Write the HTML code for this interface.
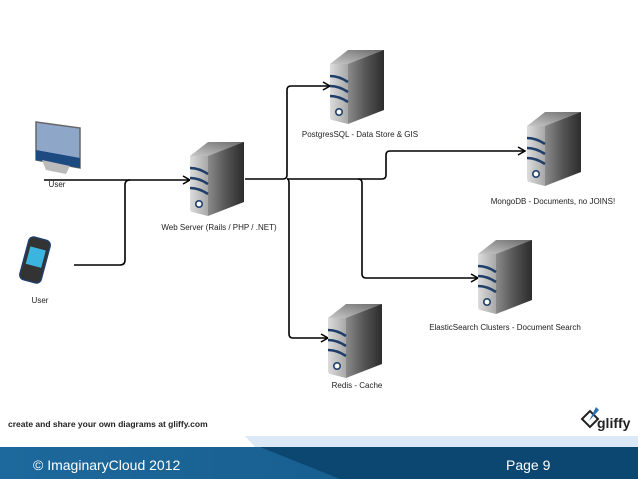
<!DOCTYPE html>
<html><head><meta charset="utf-8"><style>
body{margin:0;width:638px;height:479px;background:#fff;overflow:hidden;position:relative;font-family:"Liberation Sans",sans-serif}
svg{position:absolute;left:0;top:0}
</style></head><body>
<svg width="638" height="479" viewBox="0 0 638 479">
<defs>
<linearGradient id="side" x1="0" x2="1" y1="0" y2="0"><stop offset="0" stop-color="#8a8a8a"/><stop offset="0.5" stop-color="#555"/><stop offset="1" stop-color="#2c2c2c"/></linearGradient>
<linearGradient id="front" x1="0" x2="1"><stop offset="0" stop-color="#dcdcdc"/><stop offset="1" stop-color="#a8a8a8"/></linearGradient>
<linearGradient id="top" x1="0" x2="1" y1="1" y2="0"><stop offset="0" stop-color="#c8c8c8"/><stop offset="1" stop-color="#6a6a6a"/></linearGradient>
<g id="srv">
<polygon points="0,16 18,2 54,2 36,16" fill="url(#top)"/>
<polygon points="18,16 54,2 54,62 18,76" fill="url(#side)"/>
<path d="M0,16 L18,16 L18,76 L2,72 Q0,72 0,68 Z" fill="url(#front)"/>
<path d="M0,28 Q9,28 18,34 M0,38 Q9,38 18,44 M0,48 Q9,48 18,54" stroke="#1f3f6a" stroke-width="2.6" fill="none"/>
<circle cx="9" cy="64" r="3.2" fill="#fff" stroke="#1f3f6a" stroke-width="1.6"/>
</g>
<marker id="ar" markerWidth="10" markerHeight="10" refX="8" refY="5" orient="auto" markerUnits="userSpaceOnUse"><path d="M1,1 L8,5 L1,9" fill="none" stroke="#000" stroke-width="1.5"/></marker>
<linearGradient id="foot" x1="0" x2="1"><stop offset="0" stop-color="#1d689c"/><stop offset="1" stop-color="#135885"/></linearGradient>
</defs>

<!-- monitor -->
<polygon points="36,122 80,128 80,168 36,160" fill="#8ea6c8" stroke="#666" stroke-width="1.5"/>
<polygon points="36,150 80,158 80,168 36,160" fill="#1d4a80"/>
<polygon points="42,160 70,166 66,174 46,170" fill="#bbb"/>
<!-- phone -->
<rect x="24" y="238" width="22" height="44" rx="5" fill="#333" stroke="#1f3f6a" stroke-width="1.5" transform="rotate(15 35 260)"/>
<rect x="27" y="248" width="16" height="18" fill="#3cb4e0" transform="rotate(15 35 260)"/>

<g stroke="#000" stroke-width="1.6" fill="none">
<path d="M44,180 L190,180" marker-end="url(#ar)"/>
<path d="M74,265 L120,265 Q125,265 125,260 L125,185 Q125,180 130,180"/>
<path d="M245,179 L283,179 Q287,179 287,175 L287,90 Q287,86 291,86 L330,86" marker-end="url(#ar)"/>
<path d="M287,179 L382,179 Q386,179 386,175 L386,155 Q386,151 390,151 L525,151" marker-end="url(#ar)"/>
<path d="M287,179 Q289,179 289,183 L289,334 Q289,338 293,338 L328,338" marker-end="url(#ar)"/>
<path d="M358,179 Q362,179 362,183 L362,274 Q362,278 366,278 L478,278" marker-end="url(#ar)"/>
</g>

<use href="#srv" x="190" y="140"/>
<use href="#srv" x="330" y="48"/>
<use href="#srv" x="527" y="110"/>
<use href="#srv" x="478" y="238"/>
<use href="#srv" x="328" y="302"/>

<g font-size="8" fill="#222" text-anchor="middle">
<text x="57" y="187">User</text>
<text x="40" y="303">User</text>
<text x="219" y="230">Web Server (Rails / PHP / .NET)</text>
<text x="360" y="137">PostgresSQL - Data Store &amp; GIS</text>
<text x="553" y="204">MongoDB - Documents, no JOINS!</text>
<text x="505" y="330">ElasticSearch Clusters - Document Search</text>
<text x="357" y="388">Redis - Cache</text>
</g>
<text x="8" y="427" font-size="8.5" font-weight="bold" fill="#222">create and share your own diagrams at gliffy.com</text>
<polygon points="582,419 590,411 598,419 590,427" fill="none" stroke="#222" stroke-width="2"/>
<path d="M589,421 L596,407 L599,410 Z" fill="#2a6fb0"/>
<text x="597" y="428" font-size="14" font-weight="bold" fill="#222">gliffy</text>

<polygon points="245,436 638,436 638,447 255,447" fill="#dbe9f6"/>
<rect x="0" y="447" width="638" height="32" fill="url(#foot)"/>
<polygon points="260,447 638,447 638,479 340,479" fill="#0b4770"/>
<text x="33" y="470" font-size="14" fill="#fff">© ImaginaryCloud 2012</text>
<text x="506" y="470" font-size="14" fill="#fff">Page 9</text>
</svg>
</body></html>
